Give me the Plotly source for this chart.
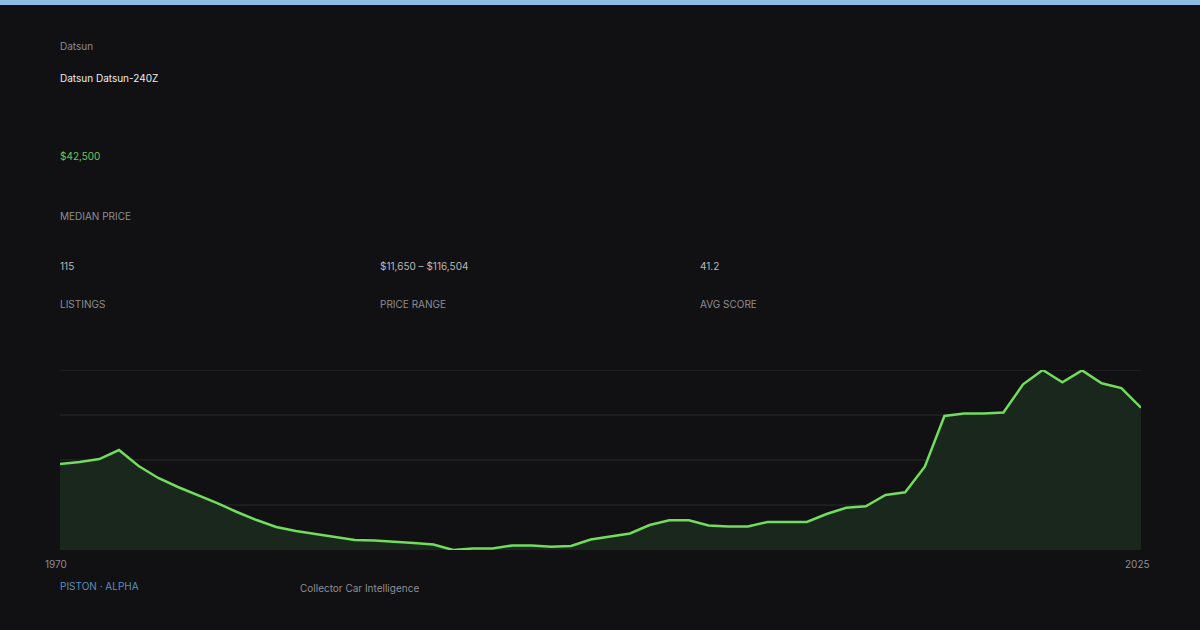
import plotly.graph_objects as go

years = list(range(1970, 2026))
median_price = [
    61700, 62900, 64650, 69900, 60600, 53600, 48350, 43700, 39000, 33800,
    29100, 25050, 22700, 20970, 19200, 17480, 17180, 16600, 15730, 14850,
    11650, 12520, 12520, 14270, 14270, 13510, 13980, 17770, 19510, 21260,
    26210, 28950, 28950, 25920, 25340, 25340, 27960, 27960, 27960, 32620,
    36290, 37105, 43690, 45260, 60170, 89700, 91160, 91160, 91740, 108170,
    116504, 109335, 116300, 108750, 106015, 94540,
]

make = "Datsun"
model_title = "Datsun Datsun-240Z"
median_label = "$42,500"
stats_values = ["115", "$11,650 – $116,504", "41.2"]
stats_labels = ["LISTINGS", "PRICE RANGE", "AVG SCORE"]
brand = "PISTON · ALPHA"
tagline = "Collector Car Intelligence"

W, H = 1200, 630
L, R, T, B = 60, 1141, 370, 550
PW, PH = R - L, B - T

def px(x):
    return (x - L) / PW

def py(y):
    return (B - y) / PH

FONT = "Inter"
FS = 10
BG = "#111113"
GRID = "#2a2a2e"

ymin, ymax = min(median_price), max(median_price)
grid_vals = [ymin + (ymax - ymin) * k / 4 for k in range(1, 5)]

fig = go.Figure()
fig.add_trace(go.Scatter(
    x=years, y=median_price, mode="lines",
    line=dict(color="#72dc5c", width=2.5),
    fill="tozeroy", fillcolor="#1a271d",
    hoverinfo="skip",
))

ann = []
def text(x, y, s, color, size=FS):
    ann.append(dict(xref="paper", yref="paper", x=px(x), y=py(y), text=s,
                    showarrow=False, xanchor="left", yanchor="middle",
                    xshift=-2,
                    font=dict(family=FONT, size=size, color=color)))

text(60, 46, make, "#8a8a90")
text(60, 78, model_title, "#ececec")
text(60, 156, median_label, "#6cc95a")
text(60, 216, "MEDIAN PRICE", "#8e8e94")
for i, x in enumerate([60, 380, 700]):
    text(x, 266, stats_values[i], "#b8b8bc")
    text(x, 304, stats_labels[i], "#8e8e94")
text(60, 586, brand, "#5b8fbb")
text(300, 588, tagline, "#8e8e94")

for yr in (years[0], years[-1]):
    ann.append(dict(xref="x", yref="paper", x=yr, y=py(564), text=str(yr),
                    showarrow=False, xanchor="center", yanchor="middle",
                    xshift=-4,
                    font=dict(family=FONT, size=FS, color="#8e8e94")))

shapes = [dict(type="rect", xref="paper", yref="paper",
               x0=px(0), x1=px(W), y0=py(5), y1=py(0),
               fillcolor="#8dbde0", line=dict(width=0), layer="above")]
for gv in grid_vals:
    shapes.append(dict(type="line", xref="paper", yref="y", x0=0, x1=1,
                       y0=gv, y1=gv, line=dict(color=GRID, width=1),
                       layer="below"))

fig.update_layout(
    width=W, height=H,
    margin=dict(l=L, r=W - R, t=T, b=H - B, pad=0),
    paper_bgcolor=BG, plot_bgcolor=BG,
    showlegend=False,
    annotations=ann,
    shapes=shapes,
    xaxis=dict(range=[years[0], years[-1]], showgrid=False, zeroline=False,
               showticklabels=False, showline=False, fixedrange=True),
    yaxis=dict(range=[ymin, ymax], showticklabels=False, showgrid=False,
               zeroline=False, showline=False, fixedrange=True),
)

fig.write_html("out.html")
